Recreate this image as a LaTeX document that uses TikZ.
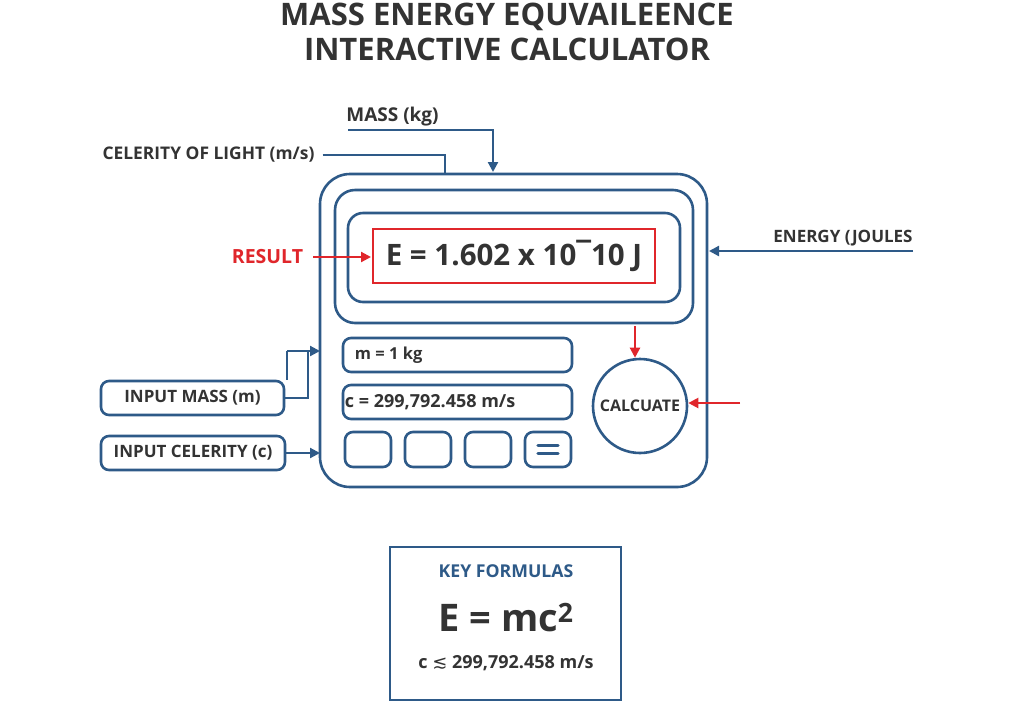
\documentclass[tikz,border=0pt]{standalone}
\usepackage{fontspec}
\setmainfont{Open Sans}
\newfontfamily\symfont{DejaVu Sans}
\usetikzlibrary{arrows.meta}
\definecolor{navy}{HTML}{2E5A88}
\definecolor{alert}{HTML}{E0262B}
\definecolor{ink}{HTML}{333333}
\begin{document}
\begin{tikzpicture}[x=1pt,y=-1pt,
  panel/.style={draw=navy,line width=2.6pt,inner sep=0pt},
  lbl/.style={text=ink,inner sep=0pt,font=\bfseries\fontsize{17.4}{20}\selectfont},
  fieldtext/.style={text=ink,inner sep=0pt,font=\bfseries\fontsize{16.5}{19}\selectfont},
  ttl/.style={text=ink,inner sep=0pt,font=\bfseries\fontsize{31}{36}\selectfont},
  arr/.style={-{Triangle[length=10pt,width=10pt]},line width=2.2pt,draw=navy},
  redarr/.style={-{Triangle[length=10pt,width=10pt]},line width=2.2pt,draw=alert},
  wire/.style={line width=2.2pt,draw=navy}]
\useasboundingbox[fill=white] (0,0) rectangle (1024,702);

% title
\node[ttl] (t1) at (507,17) {MASS ENERGY EQUVAILEENCE};
\node[ttl] (t2) at (507,49) {INTERACTIVE CALCULATOR};

% calculator body
\node[panel,rounded corners=30pt,minimum width=387pt,minimum height=313pt] (outer) at (513.5,330.5) {};
\node[panel,rounded corners=20pt,minimum width=358pt,minimum height=133pt] (disp) at (514,256.5) {};
\node[panel,rounded corners=15pt,minimum width=332pt,minimum height=89pt] (dispin) at (514,257.5) {};
\node[draw=alert,line width=2.6pt,minimum width=282pt,minimum height=54pt,inner sep=0pt,text=ink,
      font=\bfseries\fontsize{29.5}{33}\selectfont] (result) at (514,256) {E = 1.602 x 10¯10 J};

% fields
\node[panel,rounded corners=8pt,minimum width=229pt,minimum height=34pt] (mfield) at (457.5,355) {};
\node[fieldtext,anchor=west] (mtext) at ([xshift=13pt]mfield.west) {m = 1 kg};
\node[panel,rounded corners=8pt,minimum width=229pt,minimum height=34pt] (cfield) at (457.5,402) {};
\node[fieldtext,anchor=west,font=\bfseries\fontsize{18}{21}\selectfont] (ctext) at ([xshift=3pt]cfield.west) {c = 299,792.458 m/s};

% buttons
\node[panel,rounded corners=8pt,minimum width=46pt,minimum height=35pt] (b1) at (368,449.5) {};
\node[panel,rounded corners=8pt,minimum width=46pt,minimum height=35pt] (b2) at (428,449.5) {};
\node[panel,rounded corners=8pt,minimum width=46pt,minimum height=35pt] (b3) at (488,449.5) {};
\node[panel,rounded corners=8pt,minimum width=46pt,minimum height=35pt] (b4) at (548,449.5) {};
\draw[navy,line width=3.2pt,line cap=round] ([xshift=-10pt,yshift=-4pt]b4.center) -- ([xshift=10pt,yshift=-4pt]b4.center);
\draw[navy,line width=3.2pt,line cap=round] ([xshift=-10pt,yshift=4pt]b4.center) -- ([xshift=10pt,yshift=4pt]b4.center);

% calculate button
\node[panel,circle,minimum size=94pt,text=ink,font=\bfseries\fontsize{16}{19}\selectfont] (calc) at (640,406) {CALCUATE};

% labels
\node[lbl,font=\bfseries\fontsize{19}{22}\selectfont] (mass) at (392.5,117) {MASS (kg)};
\node[lbl] (celer) at (208.5,155) {CELERITY OF LIGHT (m/s)};
\node[lbl,text=alert,font=\bfseries\fontsize{19.5}{22}\selectfont] (reslbl) at (267.5,257) {RESULT};
\node[lbl,font=\bfseries\fontsize{17}{20}\selectfont] (energy) at (843,238) {ENERGY (JOULES};

% connectors top
\coordinate (massend) at (493,172);
\coordinate (massturn) at (493,130);
\coordinate (massstart) at (348,130);
\draw[arr] (massstart) -- (massturn) -- (massend);
\coordinate (celturn) at (445,155);
\coordinate (celend) at (445,174);
\draw[wire] ([xshift=8pt]celer.east) -- (celturn) -- (celend);

% result arrow
\coordinate (resend) at (371,257);
\draw[redarr] ([xshift=10pt]reslbl.east) -- (resend);

% energy arrow
\coordinate (enstart) at (913,251);
\coordinate (enend) at (709,251);
\draw[arr] (enstart) -- (enend);

% calculate arrows
\coordinate (ctop) at (635,326);
\draw[redarr] (ctop) -- (calc.north -| ctop);
\coordinate (cright) at (740,403);
\draw[redarr] (cright) -- (calc.east |- cright);

% input boxes
\node[panel,rounded corners=8pt,minimum width=183pt,minimum height=34pt,text=ink,
      font=\bfseries\fontsize{17}{20}\selectfont] (inmass) at (192.5,398) {INPUT MASS (m)};
\node[panel,rounded corners=8pt,minimum width=184pt,minimum height=34pt,text=ink,
      font=\bfseries\fontsize{17}{20}\selectfont] (incel) at (193,453) {INPUT CELERITY (c)};

\coordinate (mloopa) at (287,351);
\coordinate (mloopb) at (308,351);
\coordinate (mend) at (320,351);
\draw[wire] (inmass.east) -| (mloopb);
\draw[wire] (inmass.north -| mloopa) -- (mloopa);
\draw[arr] (mloopa) -- (mend);
\coordinate (cend) at (320,453);
\draw[arr] (incel.east) -- (cend);

% key formulas
\node[panel,minimum width=231pt,minimum height=153pt] (keybox) at (505.5,623.5) {};
\node[lbl,text=navy,font=\bfseries\fontsize{17.7}{21}\selectfont] (keyt) at (506,571) {KEY FORMULAS};
\node[lbl,font=\bfseries\fontsize{38}{44}\selectfont] (emc) at (506,618) {E = mc\textsuperscript{2}};
\node[lbl,font=\bfseries\fontsize{18}{22}\selectfont] (cval) at (506,663) {c {\symfont\mdseries ≲} 299,792.458 m/s};
\end{tikzpicture}
\end{document}
